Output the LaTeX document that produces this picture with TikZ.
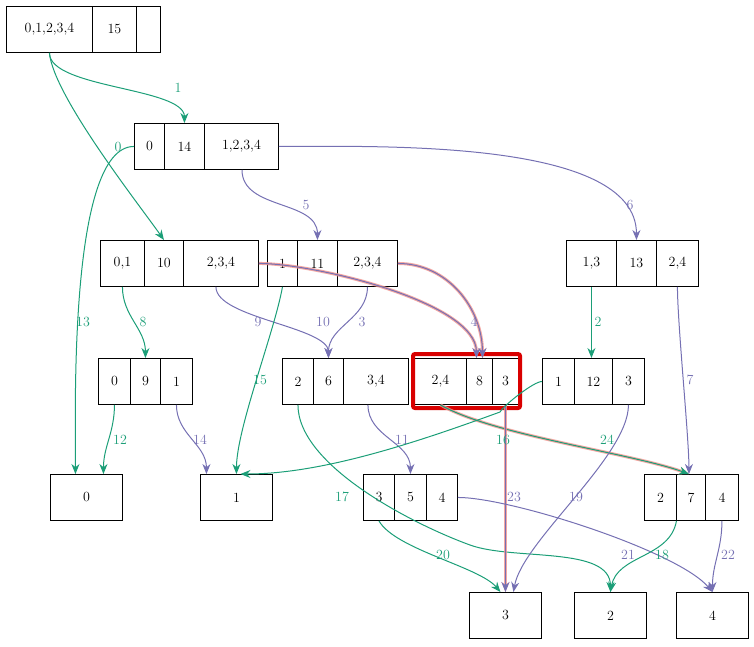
\documentclass[tikz,border=0pt]{standalone}
\usetikzlibrary{arrows.meta}
\definecolor{gr}{HTML}{1B9E77}
\definecolor{pu}{HTML}{7570B3}
\definecolor{hl}{HTML}{F0908A}
\begin{document}
\begin{tikzpicture}[x=1pt,y=-1pt,
 c/.style={draw,black,line width=0.9pt,minimum height=46pt,inner sep=0pt,anchor=north west,font=\fontsize{14}{16}\selectfont},
 g/.style={gr,line width=1pt,-{Stealth[length=10pt,width=8pt]}},
 p/.style={pu,line width=1pt,-{Stealth[length=10pt,width=8pt]}},
 h/.style={preaction={draw,hl,line width=3pt,opacity=0.8}},
 lg/.style={gr,font=\fontsize{14}{16}\selectfont},
 lp/.style={pu,font=\fontsize{14}{16}\selectfont}]
\useasboundingbox (0,0) rectangle (754,646);
\newcommand{\cl}[5]{\node[c,minimum width=#4pt] (#1) at (#2,#3) {#5};}
% n15
\cl{a1}{6}{6}{86}{0,1,2,3,4}\cl{a2}{92}{6}{44}{15}\cl{a3}{136}{6}{24}{}
% n14
\cl{b1}{134}{123}{30}{0}\cl{b2}{164}{123}{40}{14}\cl{b3}{204}{123}{74}{1,2,3,4}
% n10
\cl{c1}{100}{240}{44}{0,1}\cl{c2}{144}{240}{39}{10}\cl{c3}{183}{240}{75}{2,3,4}
% n11
\cl{d1}{267}{240}{30}{1}\cl{d2}{297}{240}{40}{11}\cl{d3}{337}{240}{60}{2,3,4}
% n13
\cl{e1}{566}{240}{50}{1,3}\cl{e2}{616}{240}{40}{13}\cl{e3}{656}{240}{42}{2,4}
% n9
\cl{f1}{98}{358}{32}{0}\cl{f2}{130}{358}{30}{9}\cl{f3}{160}{358}{32}{1}
% n6
\cl{g1}{282}{358}{31}{2}\cl{g2}{313}{358}{30}{6}\cl{g3}{343}{358}{65}{3,4}
% n8
\cl{h1}{414}{358}{52}{2,4}\cl{h2}{466}{358}{26}{8}\cl{h3}{492}{358}{26}{3}
\draw[red!85!black,line width=4pt,rounded corners=2pt] (413,354) rectangle (520,408);
% n12
\cl{i1}{542}{358}{32}{1}\cl{i2}{574}{358}{38}{12}\cl{i3}{612}{358}{32}{3}
% leaves
\cl{L0}{50}{474}{72}{0}
\cl{L1}{200}{474}{72}{1}
\cl{L3}{469}{592}{72}{3}
\cl{L2}{574}{592}{72}{2}
\cl{L4}{676}{592}{72}{4}
% n5
\cl{j1}{363}{474}{31}{3}\cl{j2}{394}{474}{32}{5}\cl{j3}{426}{474}{31}{4}
% n7
\cl{k1}{644}{474}{32}{2}\cl{k2}{676}{474}{29}{7}\cl{k3}{705}{474}{33}{4}
% edges
\draw[g] (a1.south) to[out=-90,in=90,looseness=0.6] (b2.north);
\node[lg] (l1) at (178,88) {1};
\draw[g] (a1.south) to[out=-85,in=125,looseness=0.5] (c2.north);
\node[lg] (l0) at (118,147) {0};
\draw[g] (b1.west) to[out=180,in=90,looseness=0.5] ([xshift=-11pt]L0.north);
\node[lg] (l13) at (83,322) {13};
\draw[p] (b3.south west) ++(38,0) coordinate (b3s) to[out=-90,in=90] (d2.north);
\node[lp] (l5) at (306,205) {5};
\draw[p] (b3.east) to[out=0,in=90,looseness=0.7] (e2.north);
\node[lp] (l6) at (630,205) {6};
\draw[g] (c1.south) to[out=-90,in=90] (f2.north);
\node[lg] (l8) at (143,322) {8};
\draw[p] (c3.south) ++(-5,0) coordinate (c3s) to[out=-90,in=90,looseness=0.6] (g2.north);
\node[lp] (l9) at (258,322) {9};
\draw[p,h] (c3.east) to[out=0,in=90,looseness=0.6] ([xshift=-3pt]h2.north);
\node[lp] (l10) at (323,322) {10};
\draw[p] (d3.south) to[out=-90,in=90] (g2.north);
\node[lp] (l3) at (362,322) {3};
\draw[p,h] (d3.east) to[out=0,in=90] ([xshift=3pt]h2.north);
\node[lp] (l4) at (474,322) {4};
\draw[g] (d1.south) to[out=-100,in=90,looseness=0.6] (L1.north);
\node[lg] (l15) at (260,380) {15};
\draw[g] (e1.south) -- (i2.north -| e1.south);
\node[lg] (l2) at (598,322) {2};
\draw[p] (e3.south) to[out=-90,in=90,looseness=0.5] ([xshift=-2pt]k2.north);
\node[lp] (l7) at (690,380) {7};
\draw[g] (f1.south) to[out=-90,in=90] ([xshift=17pt]L0.north);
\node[lg] (l12) at (120,440) {12};
\draw[p] (f3.south) to[out=-90,in=90] ([xshift=-30pt]L1.north);
\node[lp] (l14) at (200,440) {14};
\draw[p] (g3.south) ++(-8,0) coordinate (g3s) to[out=-90,in=90] (j2.north);
\node[lp] (l11) at (402,440) {11};
\draw[g] (g1.south) to[out=-90,in=160,looseness=0.7] (470,545) to[out=-20,in=90,looseness=0.8] (L2.north);
\node[lg] (l17) at (342,497) {17};
\draw[g,h] (h1.south) to[out=-30,in=160,looseness=0.6] ([xshift=-2pt]k2.north);
\node[lg] (l24) at (607,440) {24};
\draw[p,h] (h3.south) -- (L3.north -| h3.south);
\node[lp] (l23) at (514,497) {23};
\draw[g] (i1.west) to[out=180,in=60,looseness=0.4] (500,412) to[out=-160,in=0,looseness=0.8] ([xshift=4pt]L1.north);
\node[lg] (l16) at (503,440) {16};
\draw[p] (i3.south) to[out=-90,in=80,looseness=0.6] ([xshift=8pt]L3.north);
\node[lp] (l19) at (576,497) {19};
\draw[g] (j1.south) to[out=-60,in=130,looseness=0.6] ([xshift=-5pt]L3.north);
\node[lg] (l20) at (443,555) {20};
\draw[p] (j3.east) to[out=0,in=130,looseness=0.5] (L4.north);
\node[lp] (l21) at (628,555) {21};
\draw[g] (k1.south) ++(16,0) coordinate (k1s) to[out=-100,in=80] (L2.north);
\node[lg] (l18) at (662,555) {18};
\draw[p] (k3.south) to[out=-90,in=90] (L4.north);
\node[lp] (l22) at (728,555) {22};
\end{tikzpicture}
\end{document}
